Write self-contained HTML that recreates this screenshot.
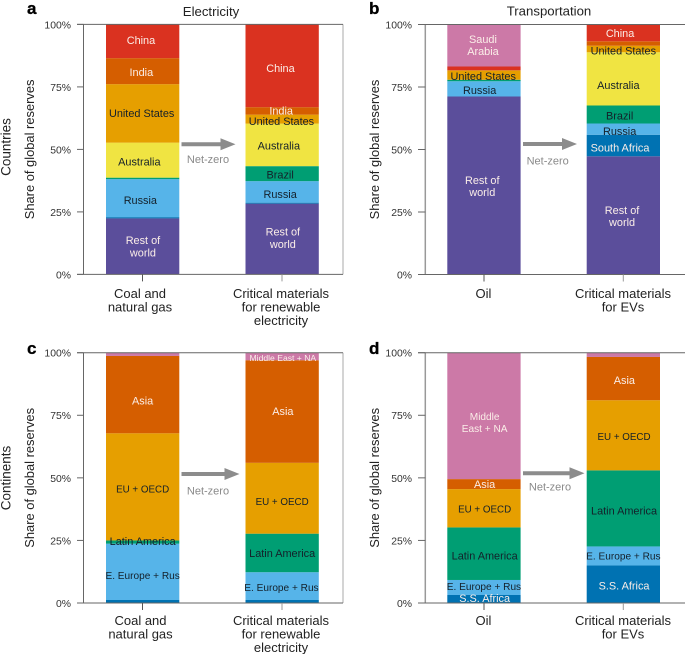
<!DOCTYPE html>
<html lang="en">
<head>
<meta charset="utf-8">
<title>Share of global reserves</title>
<style>
  html, body { margin: 0; padding: 0; background: #fff; }
  body { width: 685px; height: 654px; overflow: hidden; }
  svg { display: block; font-family: "Liberation Sans", sans-serif; }
</style>
</head>
<body>
<svg id="chart" xmlns="http://www.w3.org/2000/svg" width="685" height="654" viewBox="0 0 685 654"></svg>
<script>
// ---- Data: shares of global reserves (%), stacked bottom to top ----
const tickLabels = ['0%', '25%', '50%', '75%', '100%'];
const tickValues = [0, 25, 50, 75, 100];

const countrySeries = ['Rest of world', 'South Africa', 'Russia', 'Brazil', 'Australia', 'United States', 'India', 'China', 'Saudi Arabia'];
const continentSeries = ['S.S. Africa', 'E. Europe + Rus', 'Latin America', 'EU + OECD', 'Asia', 'Middle East + NA'];

const electricityCategories = ['Coal and\nnatural gas', 'Critical materials\nfor renewable\nelectricity'];
const transportCategories = ['Oil', 'Critical materials\nfor EVs'];

const panelACoal = [22.4, 0.5, 15.2, 0.6, 14.0, 23.4, 10.4, 13.5, 0];
const panelARenewables = [28.3, 0.4, 8.6, 6.0, 17.0, 3.6, 3.0, 33.1, 0];
const panelBOil = [71.2, 0, 6.1, 0.6, 0, 3.7, 0.1, 1.5, 16.8];
const panelBEvs = [47.3, 8.6, 4.5, 7.2, 21.3, 2.6, 1.8, 6.7, 0];
const panelCCoal = [1.2, 22.5, 1.3, 42.8, 30.9, 1.3];
const panelCRenewables = [1.2, 11.1, 15.4, 28.3, 41.0, 3.0];
const panelDOil = [3.2, 6.0, 21.0, 15.3, 4.0, 50.5];
const panelDEvs = [15.0, 7.6, 30.4, 28.0, 17.3, 1.7];

const panelACoalLabels = ['Rest of\nworld', '', 'Russia', '', 'Australia', 'United States', 'India', 'China', ''];
const panelARenewablesLabels = ['Rest of\nworld', '', 'Russia', 'Brazil', 'Australia', 'United States', 'India', 'China', ''];
const panelBOilLabels = ['Rest of\nworld', '', 'Russia', '', '', 'United States', '', '', 'Saudi\nArabia'];
const panelBEvsLabels = ['Rest of\nworld', 'South Africa', 'Russia', 'Brazil', 'Australia', 'United States', '', 'China', ''];
const panelCCoalLabels = ['', 'E. Europe + Rus', 'Latin America', 'EU + OECD', 'Asia', ''];
const panelCRenewablesLabels = ['', 'E. Europe + Rus', 'Latin America', 'EU + OECD', 'Asia', 'Middle East + NA'];
const panelDOilLabels = ['S.S. Africa', 'E. Europe + Rus', 'Latin America', 'EU + OECD', 'Asia', 'Middle\nEast + NA'];
const panelDEvsLabels = ['S.S. Africa', 'E. Europe + Rus', 'Latin America', 'EU + OECD', 'Asia', ''];

// ---- Layout and style (separate from the data) ----
const countryColors = ['#5b4e9b', '#0072b2', '#56b4e9', '#009e73', '#f0e442', '#e69f00', '#d55e00', '#da3220', '#cc79a7'];
const continentColors = ['#0072b2', '#56b4e9', '#009e73', '#e69f00', '#d55e00', '#cc79a7'];
const lightText = { '#5b4e9b': 1, '#0072b2': 1, '#d55e00': 1, '#da3220': 1, '#cc79a7': 1 };

const labelNudge = {
  'a0': [[0.3, 0], null, [-2.3, 2], null, [-3.3, 1.7], [-1, 0], [-1.3, 1], [-1.7, -1], null],
  'a1': [[0.7, -1], null, [-2, 2.3], [-2, 1], [-3.3, 1], [-0.7, 2.3], [-1, -0.3], [-1.7, 2.7], null],
  'b0': [[-1.7, 0.7], null, [-4.3, 1.3], null, null, [-0.7, 1], null, null, [-1, -0.3]],
  'b1': [[-1.3, 0.7], [-3.3, 2.3], [-3.7, 2], [-3.7, 1.3], [-5, 6.3], [0, 1.7], null, [-3.3, 0.3], null],
  'c0': [null, [0, 3.3], [0, -0.7], [0, 1.7], [0, 6.3], null],
  'c1': [null, [-0.7, 1.3], [0, 0.3], [0, 3], [0.7, -0.3], [0.7, 1]],
  'd0': [[0.7, -0.7], [0, -1.3], [0.7, 2.3], [0.7, 0.3], [0.7, 0.3], [0.7, 6.3]],
  'd1': [[0.7, 1.7], [0, 0], [0.7, 2.3], [0.7, 1], [1, 1.7], null]
};

const panels = [
  { id: 'a', title: 'Electricity', titleX: 211, titleY: 16, top: 24.4, bottom: 274.4, axisX: 83.5, rightX: 343, tickX: 77, bars: [106, 245.5], ticks: [142.5, 282], catX: [140, 281], catY: 298, axisColor: '#666', ytX: 34,
    values: [panelACoal, panelARenewables], labels: [panelACoalLabels, panelARenewablesLabels], colors: countryColors, series: countrySeries, categories: electricityCategories,
    letterX: 27, letterY: 14, arrow: [181.5, 235.5, 144.3], netX: 208, netY: 163, rowTitle: 'Countries', rowY: 147 },
  { id: 'b', title: 'Transportation', titleX: 549, titleY: 15.5, top: 24.5, bottom: 274.5, axisX: 425.3, rightX: 690, tickX: 418, bars: [447.3, 586.7], ticks: [484, 623.3], catX: [483.5, 623], catY: 298, axisColor: '#999', ytX: 379,
    values: [panelBOil, panelBEvs], labels: [panelBOilLabels, panelBEvsLabels], colors: countryColors, series: countrySeries, categories: transportCategories,
    letterX: 369, letterY: 14, arrow: [523, 577, 144], netX: 547.7, netY: 164.5 },
  { id: 'c', title: '', top: 352.7, bottom: 603, axisX: 83.5, rightX: 343, tickX: 77, bars: [106, 245.5], ticks: [142.5, 282], catX: [140.5, 281], catY: 625, axisColor: '#666', ytX: 34,
    values: [panelCCoal, panelCRenewables], labels: [panelCCoalLabels, panelCRenewablesLabels], colors: continentColors, series: continentSeries, categories: electricityCategories,
    letterX: 27, letterY: 354, arrow: [181.5, 239.5, 474], netX: 208, netY: 494.7, rowTitle: 'Continents', rowY: 478 },
  { id: 'd', title: '', top: 352.7, bottom: 603, axisX: 425.3, rightX: 690, tickX: 418, bars: [447.3, 586.7], ticks: [484, 623.3], catX: [483.5, 623], catY: 625, axisColor: '#999', ytX: 379,
    values: [panelDOil, panelDEvs], labels: [panelDOilLabels, panelDEvsLabels], colors: continentColors, series: continentSeries, categories: transportCategories,
    letterX: 369, letterY: 354, arrow: [523, 584.5, 473.3], netX: 550, netY: 490.7 }
];

const barWidth = 73.3;
const NS = 'http://www.w3.org/2000/svg';
const root = document.getElementById('chart');

function make(tag, attrs, parent) {
  const el = document.createElementNS(NS, tag);
  for (const k in attrs) el.setAttribute(k, attrs[k]);
  parent.appendChild(el);
  return el;
}

function addText(parent, str, attrs) {
  const t = make('text', attrs, parent);
  t.textContent = str;
  return t;
}

function labelSize(str) {
  if (str === 'Middle East + NA') return 8.6;
  if (str === 'EU + OECD') return 9.8;
  if (str.indexOf('+') >= 0) return 10.1;
  return 10.9;
}

panels.forEach(function (p) {
  const yScale = function (v) { return p.bottom - (v / 100) * (p.bottom - p.top); };

  const g = make('g', {}, root);
  
  

  // bars
  p.values.forEach(function (vals, b) {
    let cum = 0;
    const barG = make('g', {}, g);
    
    
    vals.forEach(function (v, s) {
      if (v <= 0) return;
      const y0 = yScale(cum);
      const y1 = yScale(cum + v);
      cum += v;
      const r = make('rect', { x: p.bars[b], y: y1, width: barWidth, height: y0 - y1, fill: p.colors[s] }, barG);
      
      
    });
  });

  // axis frame
  const frame = make('path', { d: 'M' + p.axisX + ' ' + p.bottom + 'V' + p.top, fill: 'none', stroke: p.axisColor, 'stroke-width': p.id === 'b' || p.id === 'd' ? 1.5 : 1 }, g);
  
  
  if (p.rightX < 685) {
    const right = make('line', { x1: p.rightX, x2: p.rightX, y1: p.top, y2: p.bottom, stroke: '#aaa', 'stroke-width': 1 }, g);
    
    
  }
  const topLine = make('line', { x1: p.tickX, x2: p.rightX, y1: p.top, y2: p.top, stroke: '#666', 'stroke-width': 1 }, g);
  
  
  const bottomLine = make('line', { x1: p.tickX, x2: p.rightX, y1: p.bottom, y2: p.bottom, stroke: '#666', 'stroke-width': 1 }, g);
  
  

  // y ticks
  tickValues.forEach(function (v, i) {
    const y = yScale(v);
    const tick = make('line', { x1: p.tickX, x2: p.axisX, y1: y, y2: y, stroke: '#666', 'stroke-width': 1 }, g);
    
    
    const lab = addText(g, tickLabels[i], { x: p.tickX - 6, y: y + 3.9, 'text-anchor': 'end', 'font-size': 10.4, fill: '#333' });
    
    
  });

  // x ticks and category labels
  p.categories.forEach(function (c, b) {
    const tick = make('line', { x1: p.ticks[b], x2: p.ticks[b], y1: p.bottom, y2: p.bottom + 7, stroke: b === 0 ? '#555' : '#999', 'stroke-width': 1 }, g);
    
    
    const lab = make('text', { 'text-anchor': 'middle', 'font-size': 13, fill: '#222' }, g);
    
    
    c.split('\n').forEach(function (line, i) {
      const sp = make('tspan', { x: p.catX[b], y: p.catY + i * 13.4 }, lab);
      sp.textContent = line;
    });
  });

  // segment labels
  p.labels.forEach(function (labels, b) {
    let cum = 0;
    labels.forEach(function (str, s) {
      const v = p.values[b][s];
      const mid = cum + v / 2;
      cum += v;
      if (!str) return;
      const n = labelNudge[p.id + b][s] || [0, 0];
      const cx = p.bars[b] + barWidth / 2 + n[0];
      const lines = str.split('\n');
      const cy = yScale(mid) + n[1] + 3.7 - (lines.length - 1) * 6;
      const lab = make('text', { 'text-anchor': 'middle', 'font-size': labelSize(str), fill: lightText[p.colors[s]] ? '#fbeee8' : '#14202a' }, g);
      
      
      lines.forEach(function (line, i) {
        const sp = make('tspan', { x: cx, y: cy + i * 12.2 }, lab);
        sp.textContent = line;
      });
    });
  });

  // arrow
  const a = p.arrow;
  const arrow = make('path', { d: 'M' + a[0] + ' ' + (a[2] - 2) + 'H' + (a[1] - 15) + 'V' + (a[2] - 6) + 'L' + a[1] + ' ' + a[2] + 'L' + (a[1] - 15) + ' ' + (a[2] + 6) + 'V' + (a[2] + 2) + 'H' + a[0] + 'Z', fill: '#8c8c8c' }, g);
  
  
  const net = addText(g, 'Net-zero', { x: p.netX, y: p.netY, 'text-anchor': 'middle', 'font-size': 11, fill: '#8a8a8a' });
  
  

  // panel letter
  const letter = addText(g, p.id, { x: p.letterX, y: p.letterY, 'font-size': 17, 'font-weight': 'bold', fill: '#000', stroke: '#000', 'stroke-width': 0.3 });
  
  

  // column title
  if (p.title) {
    const title = addText(g, p.title, { x: p.titleX, y: p.titleY, 'text-anchor': 'middle', 'font-size': 13.2, fill: '#222' });
    
    
  }

  // y-axis title
  const midY = (p.top + p.bottom) / 2;
  const yt = addText(g, 'Share of global reserves', { x: 0, y: 0, transform: 'translate(' + p.ytX + ' ' + midY + ') rotate(-90)', 'text-anchor': 'middle', 'font-size': 12.9, fill: '#222' });
  
  

  // row title
  if (p.rowTitle) {
    const rt = addText(g, p.rowTitle, { x: 0, y: 0, transform: 'translate(10.5 ' + p.rowY + ') rotate(-90)', 'text-anchor': 'middle', 'font-size': 13.5, fill: '#222' });
    
    
  }
});
</script>
</body>
</html>
